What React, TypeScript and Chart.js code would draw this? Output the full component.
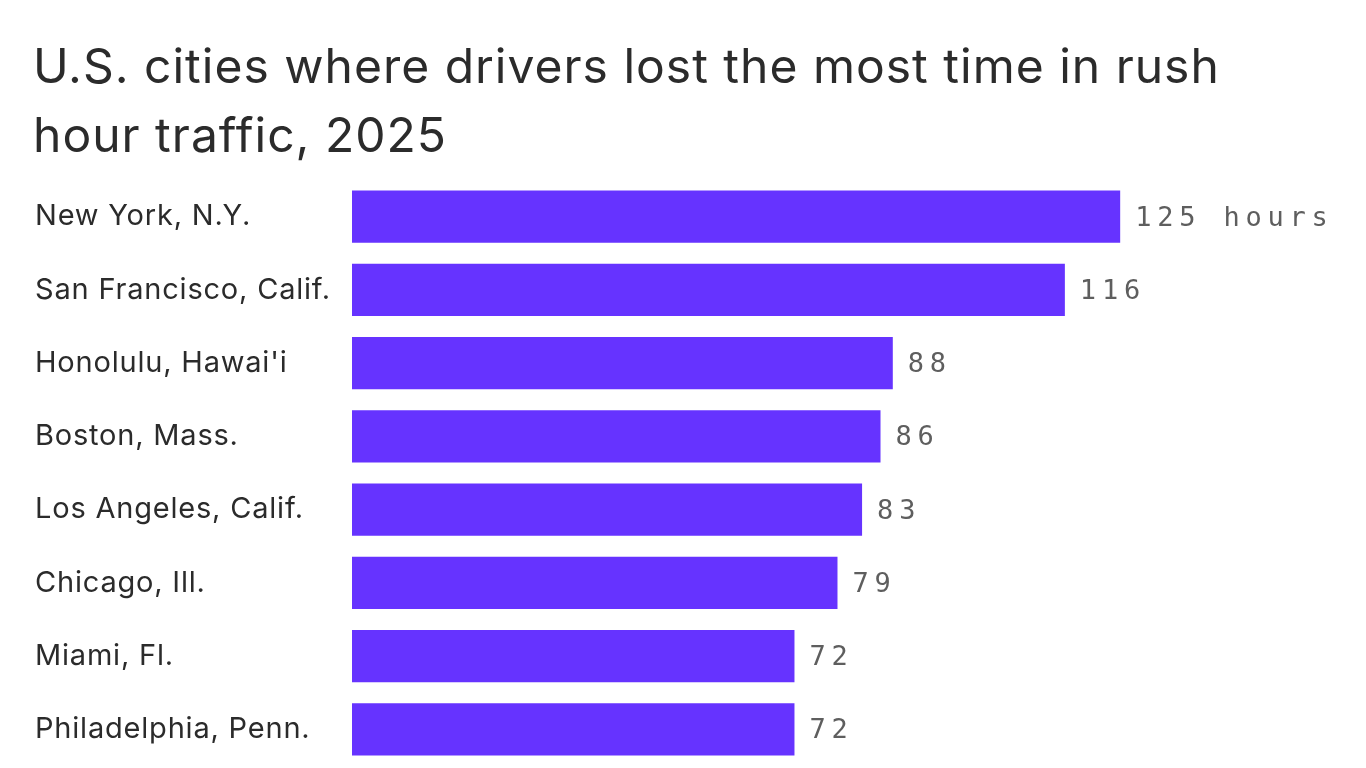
import React, { useEffect, useRef } from "react";
import { Chart, registerables } from "chart.js";

Chart.register(...registerables);

const cities = [
  "New York, N.Y.",
  "San Francisco, Calif.",
  "Honolulu, Hawai'i",
  "Boston, Mass.",
  "Los Angeles, Calif.",
  "Chicago, Ill.",
  "Miami, Fl.",
  "Philadelphia, Penn.",
];
const hoursLost = [125, 116, 88, 86, 83, 79, 72, 72];
const titleLines = [
  "U.S. cities where drivers lost the most time in rush",
  "hour traffic, 2025",
];

const BAR_COLOR = "#6633ff";
const TEXT_DARK = "#2b2b2b";
const VALUE_GRAY = "#5e5e5e";

// Two-line headline above the bars
const titlePlugin = {
  id: "headline",
  afterDraw(chart: any) {
    const ctx = chart.ctx;
    ctx.save();
    ctx.fillStyle = TEXT_DARK;
    ctx.font = "400 48px Inter";
    (ctx as any).letterSpacing = "1px";
    ctx.textAlign = "left";
    ctx.textBaseline = "alphabetic";
    titleLines.forEach((line, i) => {
      ctx.fillText(line, 33, 83 + i * 69);
    });
    ctx.restore();
  },
};

// City names, left-aligned at the start of the y axis box
const cityLabelPlugin = {
  id: "cityLabels",
  afterDraw(chart: any) {
    const ctx = chart.ctx;
    const y = chart.scales.y;
    ctx.save();
    ctx.fillStyle = TEXT_DARK;
    ctx.font = "400 29px Inter";
    (ctx as any).letterSpacing = "0.8px";
    ctx.textAlign = "left";
    ctx.textBaseline = "middle";
    (chart.data.labels as string[]).forEach((label, i) => {
      ctx.fillText(label, y.left, y.getPixelForTick(i));
    });
    ctx.restore();
  },
};

// Value at the end of each bar
const valueLabelPlugin = {
  id: "valueLabels",
  afterDatasetsDraw(chart: any) {
    const ctx = chart.ctx;
    const meta = chart.getDatasetMeta(0);
    ctx.save();
    ctx.fillStyle = VALUE_GRAY;
    ctx.font = "27px 'DejaVu Sans Mono'";
    (ctx as any).letterSpacing = "5.8px";
    ctx.textAlign = "left";
    ctx.textBaseline = "middle";
    meta.data.forEach((bar: any, i: number) => {
      const v = hoursLost[i];
      const text = i === 0 ? `${v} hours` : `${v}`;
      ctx.fillText(text, bar.x + 15, bar.y + 2);
    });
    ctx.restore();
  },
};

export default function App() {
  const canvasRef = useRef<HTMLCanvasElement | null>(null);

  useEffect(() => {
    if (!canvasRef.current) return;
    const chart = new Chart(canvasRef.current, {
      type: "bar",
      data: {
        labels: cities,
        datasets: [
          {
            data: hoursLost,
            backgroundColor: BAR_COLOR,
            borderWidth: 0,
            categoryPercentage: 1,
            barPercentage: 0.711,
          },
        ],
      },
      options: {
        indexAxis: "y",
        responsive: false,
        animation: false,
        devicePixelRatio: 1,
        layout: { padding: { left: 35, top: 180, right: 0, bottom: 2 } },
        plugins: {
          legend: { display: false },
          title: { display: false },
          tooltip: { enabled: false },
        },
        scales: {
          x: {
            display: false,
            min: 0,
            max: 165,
          },
          y: {
            grid: { display: false },
            border: { display: false },
            ticks: { display: false },
            afterFit(scale: any) {
              scale.width = 317;
              scale.paddingTop = 0;
              scale.paddingBottom = 0;
            },
          },
        },
      },
      plugins: [titlePlugin, cityLabelPlugin, valueLabelPlugin],
    });
    return () => chart.destroy();
  }, []);

  return (
    <div style={{ position: "absolute", left: 0, top: 0, width: 1366, height: 768, background: "#fff" }}>
      <canvas ref={canvasRef} width={1366} height={768} style={{ width: 1366, height: 768 }} />
    </div>
  );
}
